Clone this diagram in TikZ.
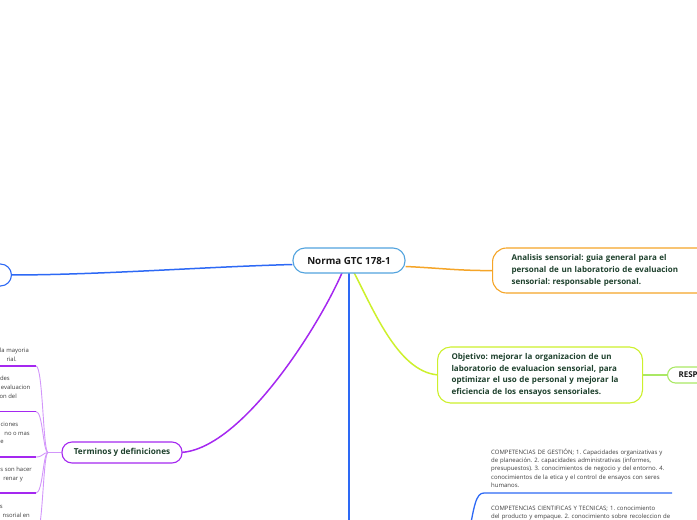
\documentclass[tikz,border=0pt]{standalone}
\usepackage{fontspec}
\setmainfont{Open Sans}
\usetikzlibrary{backgrounds}
\frenchspacing
\definecolor{cblue}{RGB}{82,163,222}
\definecolor{lblue}{RGB}{45,105,245}
\definecolor{corange}{RGB}{245,165,40}
\definecolor{cyel}{RGB}{205,240,45}
\definecolor{cgreen}{RGB}{170,232,100}
\definecolor{cpurp}{RGB}{165,40,240}
\definecolor{cpurpl}{RGB}{210,150,250}
\definecolor{tgreen}{RGB}{30,65,45}
\definecolor{tdark}{RGB}{25,25,25}
\definecolor{tgray}{RGB}{60,60,60}
\tikzset{
  topicbox/.style={fill=white, line width=1.1pt, inner ysep=0pt},
  bigtxt/.style={font=\fontsize{8}{11.8}\selectfont\bfseries, text=tgreen},
  frag/.style={font=\fontsize{5.9}{8}\selectfont, text=tgray, inner sep=0pt, anchor=base east},
  smalltxt/.style={font=\fontsize{6}{8.33}\selectfont, text=tgray, inner sep=0pt, anchor=base west, text width=210pt, align=left},
  subconn/.style={cpurpl, line width=0.9pt},
  subline/.style={cpurp, line width=1.8pt},
}
\begin{document}
\begin{tikzpicture}[x=1pt,y=-1pt]
\useasboundingbox (0,0) rectangle (697,520);
\clip (0,0) rectangle (697,520);

% nodes
\node[topicbox, draw=cblue, rounded corners=12pt, minimum width=112pt, minimum height=25pt, inner sep=0pt,
      font=\fontsize{9.8}{12}\selectfont\bfseries, text=tdark] (central) at (349,260.5) {Norma GTC 178-1};

\node[topicbox, draw=lblue, rounded corners=11pt, minimum width=60pt, minimum height=22pt, anchor=east] (leftnode) at (12,275) {};

\node[topicbox, bigtxt, draw=corange, rounded corners=14pt, anchor=west, minimum height=45pt, text width=190pt,
      inner xsep=19pt, align=left] (anal) at (492,270.5)
  {Analisis sensorial: guia general para el\\ personal de un laboratorio de evaluacion\\ sensorial: responsable personal.};

\node[topicbox, bigtxt, draw=cyel, rounded corners=13pt, anchor=west, minimum height=56pt, text width=177pt,
      inner xsep=14pt, align=left] (obj) at (437,375)
  {Objetivo: mejorar la organizacion de un\\ laboratorio de evaluacion sensorial, para\\ optimizar el uso de personal y mejorar la\\ eficiencia de los ensayos sensoriales.};

\node[topicbox, bigtxt, text=tdark, draw=cgreen, rounded corners=8pt, anchor=west, minimum height=16pt, text width=50pt,
      inner xsep=11pt, align=left] (resp) at (667,375) {RESP};

\node[topicbox, draw=cpurp, rounded corners=10pt, minimum width=120pt, minimum height=21pt, inner sep=0pt,
      font=\fontsize{8.2}{10}\selectfont\bfseries, text=tgreen] (term) at (122,452.5) {Terminos y definiciones};

% purple subtopic fragments
\node[frag] (f1a) at (29,352.6) {la mayoria};
\node[frag] (f1b) at (17,361) {rial.};
\node[frag] (f2a) at (10,380) {des};
\node[frag] (f2b) at (30.5,389) {evaluacion};
\node[frag] (f2c) at (17,398) {on del};
\node[frag] (f3a) at (18.5,426.6) {ciones};
\node[frag] (f3b) at (30,435) {no o mas};
\node[frag] (f3c) at (4,443.6) {e};
\node[frag] (f4a) at (32,471.6) {s son hacer};
\node[frag] (f4b) at (23,480.6) {renar y};
\node[frag] (f5a) at (3,508) {s};
\node[frag] (f5b) at (30,517.6) {nsorial en};

% competencias
\node[smalltxt] (comp1) at (491,454.3)
  {COMPETENCIAS DE GESTIÓN; 1. Capacidades organizativas y\\ de planeación. 2. capacidades administrativas (informes,\\ presupuestos). 3. conocimientos de negocio y del entorno. 4.\\ conocimientos de la etica y el control de ensayos con seres\\ humanos.};
\node[smalltxt] (comp2) at (491,510.6)
  {COMPETENCIAS CIENTIFICAS Y TECNICAS; 1. conocimiento\\ del producto y empaque. 2. conocimiento sobre recoleccion de};

% coordinates
\coordinate (hub) at (48,452.5);
\coordinate (u1R) at (36,366); \coordinate (u1L) at (-3,366);
\coordinate (u2R) at (36,411.5); \coordinate (u2L) at (-3,411.5);
\coordinate (u3R) at (36,457); \coordinate (u3L) at (-3,457);
\coordinate (u4R) at (36,493); \coordinate (u4L) at (-3,493);
\coordinate (u5R) at (36,536);
\coordinate (bluebottom) at (349,530);
\coordinate (compsrc) at (468,540);
\coordinate (c1a) at (484,493);
\coordinate (c1b) at (672,493);

\begin{scope}[on background layer]
\clip (0,0) rectangle (697,520);
\draw[lblue, line width=1.5pt] ([yshift=-4pt]central.west) .. controls (200,267) and (100,275) .. ([xshift=-4pt]leftnode.east);
\draw[corange, line width=1.5pt] ([yshift=-6pt]central.east) .. controls (440,268) and (460,271) .. ([xshift=4pt]anal.west);
\draw[cyel, line width=1.5pt] ([xshift=4pt,yshift=3pt]central.south) .. controls (375,313) and (400,375) .. ([xshift=4pt]obj.west);
\draw[cpurp, line width=1.5pt] ([xshift=-6pt,yshift=3pt]central.south) .. controls (320,325) and (240,452.5) .. ([xshift=-4pt]term.east);
\draw[lblue, line width=1.5pt] ([yshift=3pt]central.south) -- (bluebottom);
\draw[cgreen, line width=1.5pt] (obj.east) -- (resp.west);
\draw[lblue, line width=1.3pt] (compsrc) .. controls (474,505) and (476,493) .. (c1a) -- (c1b);
\draw[cpurpl, line width=1.2pt] (term.west) -- (hub);
\draw[subconn] (hub) .. controls (43,452.5) and (43,366) .. (u1R);
\draw[subconn] (hub) .. controls (43,452.5) and (43,411.5) .. (u2R);
\draw[subconn] (hub) .. controls (43,452.5) and (43,457) .. (u3R);
\draw[subconn] (hub) .. controls (43,452.5) and (43,493) .. (u4R);
\draw[subconn] (hub) .. controls (43,452.5) and (43,536) .. (u5R);
\draw[subline] (u1L) -- (u1R);
\draw[subline] (u2L) -- (u2R);
\draw[subline] (u3L) -- (u3R);
\draw[subline] (u4L) -- (u4R);
\end{scope}
\end{tikzpicture}
\end{document}
